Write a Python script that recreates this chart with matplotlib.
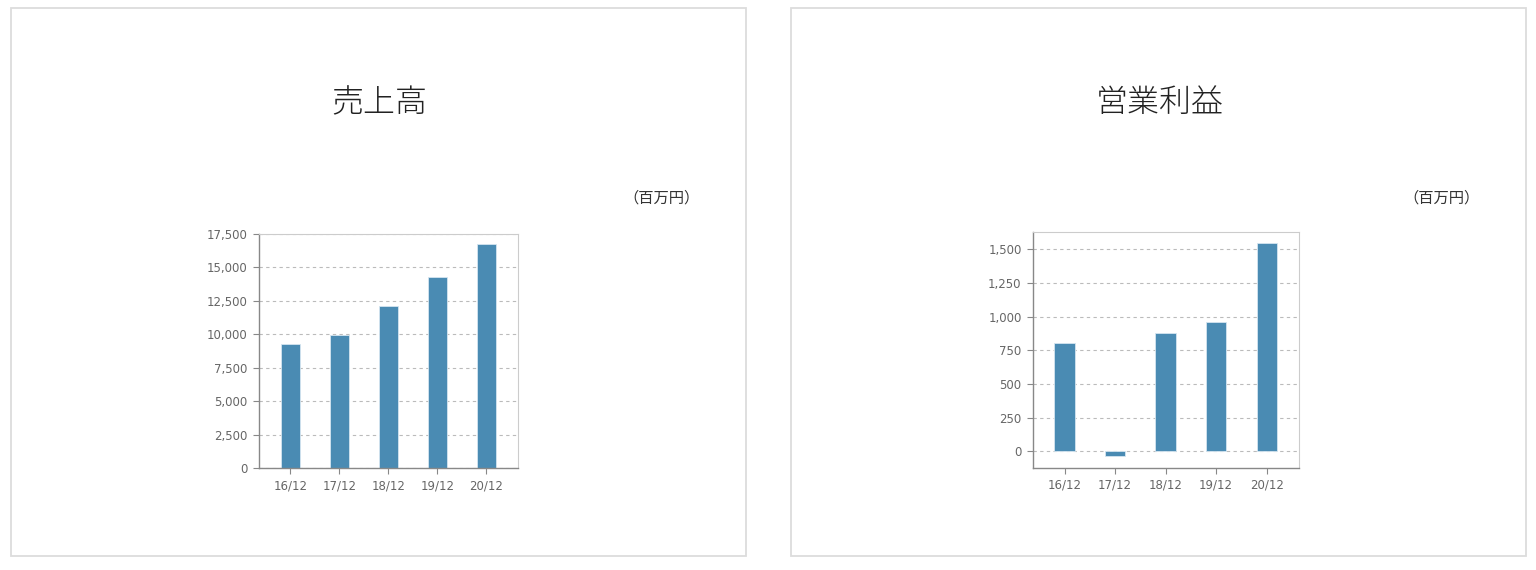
import matplotlib
matplotlib.use("Agg")
import matplotlib.pyplot as plt
from matplotlib.patches import Rectangle
from matplotlib.ticker import FuncFormatter

plt.rcParams['font.family'] = ['Noto Sans CJK JP', 'DejaVu Sans']

categories = ["16/12", "17/12", "18/12", "19/12", "20/12"]
sales = [9250, 9950, 12100, 14250, 16780]
op_income = [802, -37, 879, 958, 1549]
sales_ticks = [0, 2500, 5000, 7500, 10000, 12500, 15000, 17500]
op_ticks = [0, 250, 500, 750, 1000, 1250, 1500]
titles = ["売上高", "営業利益"]
unit_label = "（百万円）"

W, H = 1536, 570
fig = plt.figure(figsize=(W / 100, H / 100), dpi=100)
fig.patch.set_facecolor('white')

# panel borders
for x0 in (11, 791):
    fig.patches.append(Rectangle((x0 / W, 1 - 556 / H), 735 / W, 548 / H,
                                 transform=fig.transFigure, fill=False,
                                 edgecolor='#dcdcdc', linewidth=1.3))

bar_color = '#4a8bb3'
fmt = FuncFormatter(lambda v, p: f"{int(v):,}")


def style(ax, ticks, ylim, xlim):
    ax.set_ylim(*ylim)
    ax.set_xlim(*xlim)
    ax.set_yticks(ticks)
    ax.yaxis.set_major_formatter(fmt)
    ax.set_xticks(range(len(categories)))
    ax.set_xticklabels(categories)
    ax.grid(axis='y', linestyle=(0, (3, 3)), color='#bbbbbb', linewidth=0.8)
    ax.set_axisbelow(True)
    for s in ('top', 'right'):
        ax.spines[s].set_color('#cccccc')
        ax.spines[s].set_linewidth(0.8)
    for s in ('left', 'bottom'):
        ax.spines[s].set_color('#888888')
        ax.spines[s].set_linewidth(1.0)
    ax.tick_params(axis='both', colors='#888888', length=4, width=0.8,
                   labelcolor='#666666', labelsize=8.5, pad=4)
    for lab in ax.get_xticklabels() + ax.get_yticklabels():
        lab.set_family(['DejaVu Sans'])


ax1 = fig.add_axes([258.7 / W, 1 - 468 / H, 259.3 / W, 234 / H])
ax1.bar(range(len(categories)), sales, width=0.39, color=bar_color,
        edgecolor='#d5e5f0', linewidth=0.6)
style(ax1, sales_ticks, (0, 17500), (-0.645, 4.645))

ax2 = fig.add_axes([1032.7 / W, 1 - 467.7 / H, 266.3 / W, 235.7 / H])
ax2.bar(range(len(categories)), op_income, width=0.4, color=bar_color,
        edgecolor='#d5e5f0', linewidth=0.6)
style(ax2, op_ticks, (-122, 1628), (-0.63, 4.64))

for cx, t in zip((379, 1160), titles):
    fig.text(cx / W, 1 - 103 / H, t, ha='center', va='center',
             fontsize=23, color='#222222', fontweight='light')
for ux in (662, 1442):
    fig.text(ux / W, 1 - 198 / H, unit_label, ha='center', va='center',
             fontsize=11, color='#333333')

fig.savefig("out.png", dpi=100, facecolor='white')
